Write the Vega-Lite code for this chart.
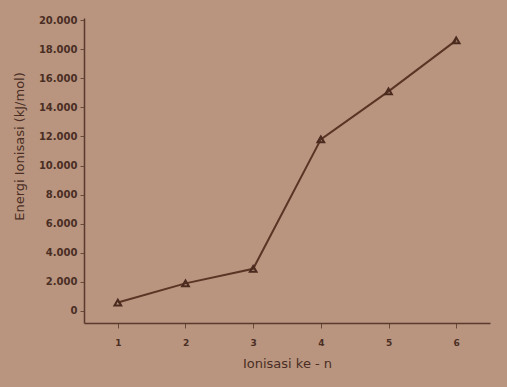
{
  "$schema": "https://vega.github.io/schema/vega-lite/v6.json",
  "autosize": "none",
  "width": 406,
  "height": 305,
  "padding": {"left": 84, "top": 18, "right": 17, "bottom": 64},
  "background": "#b9957f",
  "config": {
    "view": {"stroke": null},
    "font": "DejaVu Sans"
  },
  "data": {
    "values": [
      {"n": 1, "energi": 580},
      {"n": 2, "energi": 1900},
      {"n": 3, "energi": 2900},
      {"n": 4, "energi": 11800},
      {"n": 5, "energi": 15100},
      {"n": 6, "energi": 18600}
    ]
  },
  "mark": {
    "type": "line",
    "color": "#5a3424",
    "strokeWidth": 2,
    "point": {"shape": "triangle-up", "filled": false, "size": 45, "stroke": "#4a2a1e", "strokeWidth": 2}
  },
  "encoding": {
    "x": {
      "field": "n",
      "type": "ordinal",
      "scale": {"type": "point", "padding": 0.5},
      "axis": {
        "title": "Ionisasi ke - n",
        "labelAngle": 0,
        "labelFontSize": 9,
        "labelFontWeight": "bold",
        "labelColor": "#4a2e24",
        "labelPadding": 10,
        "tickSize": 5,
        "tickColor": "#6a4a3a",
        "domainColor": "#5a3a2c",
        "domainWidth": 1.5,
        "titleFontSize": 13,
        "titleFontWeight": "normal",
        "titleColor": "#4a2e24",
        "titlePadding": 10
      }
    },
    "y": {
      "field": "energi",
      "type": "quantitative",
      "scale": {"domain": [-825, 20140], "nice": false, "zero": false},
      "axis": {
        "title": "Energi Ionisasi (kJ/mol)",
        "values": [0, 2000, 4000, 6000, 8000, 10000, 12000, 14000, 16000, 18000, 20000],
        "labelExpr": "replace(format(datum.value, ','), ',', '.')",
        "grid": false,
        "labelFontSize": 10,
        "labelFontWeight": "bold",
        "labelColor": "#4a2e24",
        "labelPadding": 3,
        "tickSize": 4,
        "tickColor": "#6a4a3a",
        "domainColor": "#5a3a2c",
        "domainWidth": 1.5,
        "titleFontSize": 13,
        "titleFontWeight": "normal",
        "titleColor": "#4a2e24",
        "titlePadding": 12,
        "titleY": 128
      }
    }
  }
}
